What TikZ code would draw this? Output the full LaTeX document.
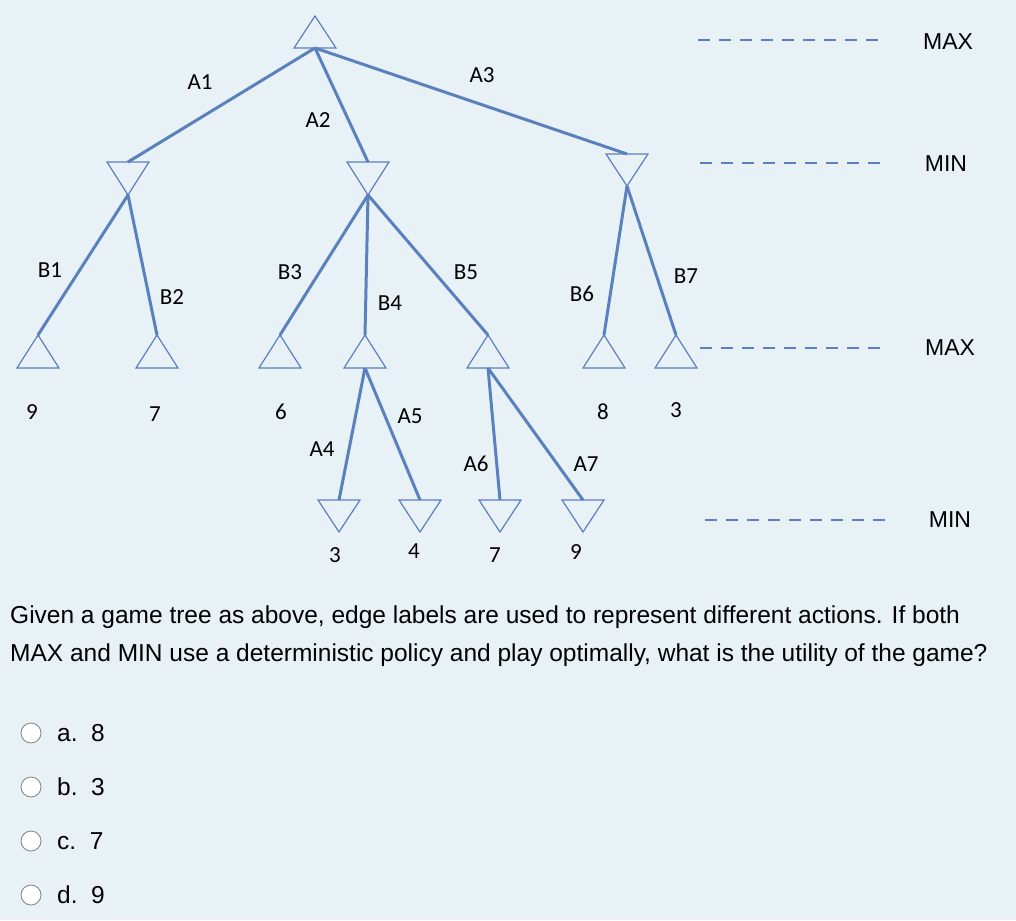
\documentclass[tikz,border=0pt]{standalone}
\usepackage{fontspec}
\setmainfont{Liberation Sans}
\newfontfamily\calib{Carlito}
\begin{document}
\begin{tikzpicture}[x=1pt,y=-1pt,
  edge/.style={draw=edgeblue,line width=3pt},
  tri/.style={draw=edgeblue,line width=1.2pt},
  lab/.style={font=\calib\fontsize{23}{23}\selectfont,inner sep=0pt},
  hl/.style={font=\fontsize{23}{23}\selectfont,inner sep=0pt},
  dsh/.style={draw=edgeblue,line width=2.5pt,dash pattern=on 12pt off 9pt},
  txt/.style={font=\fontsize{24.5}{24.5}\selectfont,inner sep=0pt,anchor=west},
  opt/.style={draw=gray,line width=0.8pt,fill=white}]
\definecolor{edgeblue}{HTML}{5B80BE}
\definecolor{bg}{HTML}{E8F2F6}
\useasboundingbox (0,0) rectangle (1016,920);
\fill[bg] (0,0) rectangle (1016,920);
\newcommand{\maxtri}[4]{%
  \draw[tri] (#2,#3) -- (#2-21,#4) -- (#2+21,#4) -- cycle;
  \coordinate (#1t) at (#2,#3); \coordinate (#1b) at (#2,#4);}
\newcommand{\mintri}[4]{%
  \draw[tri] (#2,#4) -- (#2-21,#3) -- (#2+21,#3) -- cycle;
  \coordinate (#1t) at (#2,#3); \coordinate (#1b) at (#2,#4);}
\maxtri{r}{315}{16}{48}
\mintri{m1}{128}{162}{195}
\mintri{m2}{368}{162}{195}
\mintri{m3}{627}{154}{186}
\maxtri{b1}{38}{335}{368}
\maxtri{b2}{157}{335}{368}
\maxtri{b3}{280}{335}{368}
\maxtri{b4}{365}{335}{368}
\maxtri{b5}{488}{335}{368}
\maxtri{b6}{604}{335}{368}
\maxtri{b7}{676}{335}{368}
\mintri{c1}{339}{500}{532}
\mintri{c2}{420}{500}{532}
\mintri{c3}{500}{500}{532}
\mintri{c4}{583}{500}{532}
\draw[edge] (rb) -- (m1t);
\draw[edge] (rb) -- (m2t);
\draw[edge] (rb) -- (m3t);
\draw[edge] (m1b) -- (b1t);
\draw[edge] (m1b) -- (b2t);
\draw[edge] (m2b) -- (b3t);
\draw[edge] (m2b) -- (b4t);
\draw[edge] (m2b) -- (b5t);
\draw[edge] (m3b) -- (b6t);
\draw[edge] (m3b) -- (b7t);
\draw[edge] (b4b) -- (c1t);
\draw[edge] (b4b) -- (c2t);
\draw[edge] (b5b) -- (c3t);
\draw[edge] (b5b) -- (c4t);
\node[lab] (la1) at (200,82) {A1};
\node[lab] (la2) at (318,120) {A2};
\node[lab] (la3) at (482,75) {A3};
\node[lab] (lb1) at (50,270) {B1};
\node[lab] (lb2) at (172,297) {B2};
\node[lab] (lb3) at (290,272) {B3};
\node[lab] (lb4) at (390,303) {B4};
\node[lab] (lb5) at (466,272) {B5};
\node[lab] (lb6) at (582,294) {B6};
\node[lab] (lb7) at (686,276) {B7};
\node[lab] (la4) at (322,449) {A4};
\node[lab] (la5) at (410,416) {A5};
\node[lab] (la6) at (476,464) {A6};
\node[lab] (la7) at (586,464) {A7};
\node[lab] (v1) at (32,412) {9};
\node[lab] (v2) at (155,414) {7};
\node[lab] (v3) at (281,412) {6};
\node[lab] (v4) at (603,412) {8};
\node[lab] (v5) at (676,410) {3};
\node[lab] (v6) at (335,555) {3};
\node[lab] (v7) at (414,551) {4};
\node[lab] (v8) at (495,555) {7};
\node[lab] (v9) at (576,552) {9};
\draw[dsh] (698,40) -- (885,40);
\draw[dsh] (700,163) -- (885,163);
\draw[dsh] (700,348) -- (885,348);
\draw[dsh] (705,520) -- (885,520);
\node[hl] (t1) at (948,42) {MAX};
\node[hl] (t2) at (946,164) {MIN};
\node[hl] (t3) at (950,348) {MAX};
\node[hl] (t4) at (950,520) {MIN};
\node[txt] (q1) at (10,617) {Given a game tree as above, edge labels are used to represent different actions. If both};
\node[txt] (q2) at (10,655) {MAX and MIN use a deterministic policy and play optimally, what is the utility of the game?};
\foreach \y/\l/\v in {733/a/8,787/b/3,841/c/7,895/d/9}{
  \draw[opt] (31,\y) circle (10);
  \node[txt] at (57,\y) {\l.\ \ \v};
}
\end{tikzpicture}
\end{document}
